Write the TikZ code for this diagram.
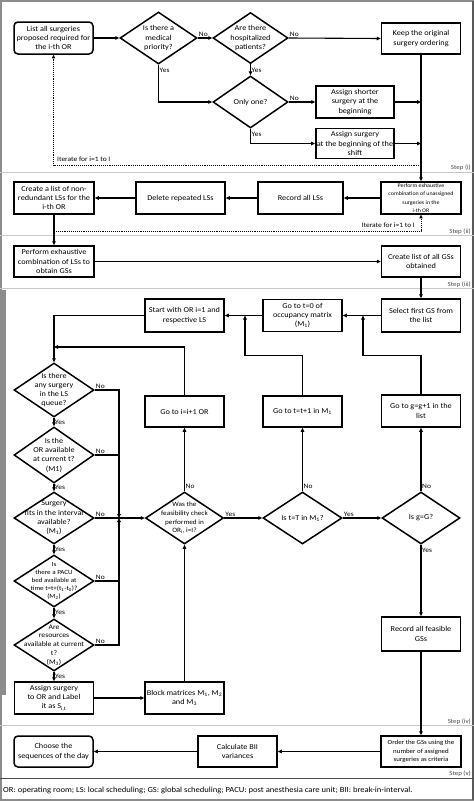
\documentclass[tikz,border=0pt]{standalone}
\usepackage{fontspec}
\setmainfont[FakeStretch=1.1]{Carlito}
\usetikzlibrary{arrows.meta,shapes.geometric}
\newcommand\fsz[2]{\fontsize{#1}{#2}\selectfont}
\begin{document}
\begin{tikzpicture}[x=1pt,y=-1pt,
 every node/.style={font=\fsz{7.5}{9.3}},
 box/.style={draw, line width=1.5pt, fill=white, align=center, inner sep=1pt, minimum width=79pt, minimum height=32pt},
 rbox/.style={box, rounded corners=4pt},
 dia/.style={draw, diamond, line width=1.5pt, fill=white, inner sep=0pt, minimum width=80pt, minimum height=52pt},
 dtxt/.style={align=center, inner sep=0pt},
 arr/.style={line width=1.1pt, -{Triangle[length=4pt,width=3.6pt]}},
 ln/.style={line width=1.1pt},
 dots/.style={line width=0.9pt, densely dotted, -{Triangle[length=3.5pt,width=3.2pt]}},
 lbl/.style={font=\fsz{6.8}{8}, inner sep=1pt},
 sepl/.style={draw=black!22, line width=0.9pt},
 steplbl/.style={font=\fsz{6.3}{7.5}, text=black!70, inner sep=0pt, anchor=east},
]
\useasboundingbox (0,0) rectangle (474,801);
% frame
\fill[white] (0,0) rectangle (474,801);
\draw[black!45, line width=2pt] (1,1) rectangle (473,800);
\fill[black!45] (0,290) rectangle (6,695);
\draw[black!65, line width=2pt] (472.5,1) -- (472.5,800);
% separators
\draw[sepl] (0,172) -- (474,172);
\draw[sepl] (0,235) -- (474,235);
\draw[sepl] (0,288) -- (474,288);
\draw[sepl] (0,725) -- (474,725);
\draw[black!70, line width=0.9pt] (0,778) -- (474,778);
\node[steplbl] (s1) at (471,167.5) {Step (i)};
\node[steplbl] (s2) at (471,231.5) {Step (ii)};
\node[steplbl] (s3) at (471,284.5) {Step (iii)};
\node[steplbl] (s4) at (471,721.5) {Step (iv)};
\node[steplbl] (s5) at (471,774) {Step (v)};
\node[anchor=west, font=\fsz{7.8}{9}, inner sep=0pt] (foot) at (3,790) {OR: operating room; LS: local scheduling; GS: global scheduling; PACU: post anesthesia care unit; BII: break-in-interval.};

% ---------- Step (i)
\node[rbox] (list) at (53.5,38) {List all surgeries\\proposed required for\\the i-th OR};
\node[dia, minimum width=77pt] (d1) at (158.5,38) {};
\node[dtxt] (d1t) at (d1) {Is there a\\medical\\priority?};
\node[dia, minimum width=75pt, minimum height=51pt] (d2) at (250.5,38) {};
\node[dtxt] (d2t) at (d2) {Are there\\hospitalized\\patients?};
\node[box, minimum height=31pt] (keep) at (421,38.5) {Keep the original\\surgery ordering};
\node[dia, minimum width=75pt] (d3) at (250.5,102) {};
\node[dtxt] (d3t) at (d3) {Only one?};
\node[box, minimum width=78pt] (short) at (355,102) {Assign shorter\\surgery at the\\beginning};
\node[box, minimum width=78pt, minimum height=30pt] (begin) at (355,143.5) {Assign surgery\\at the beginning of the\\shift};

\draw[arr] (list.east) -- (d1.west);
\draw[arr] (d1.east) -- (d2.west);
\node[lbl, anchor=south west] (l1) at (d1.east) {No};
\draw[arr] (d2.east) -- (keep.west);
\node[lbl, anchor=south west] (l2) at (d2.east) {No};
\draw[arr] (d2.south) -- (d3.north);
\node[lbl, anchor=west] (l3) at ([yshift=-6pt]d2.south) {Yes};
\draw[arr] (d1.south) |- (d3.west);
\node[lbl, anchor=west] (l4) at ([yshift=-6pt]d1.south) {Yes};
\draw[arr] (d3.east) -- (short.west);
\node[lbl, anchor=south west] (l5) at (d3.east) {No};
\draw[arr] (d3.south) |- (begin.west);
\node[lbl, anchor=west] (l6) at ([yshift=-6pt]d3.south) {Yes};

% ---------- Step (ii)
\node[box, minimum width=80pt, font=\fsz{5.4}{8.4}] (perf1) at (421,198) {Perform exhaustive\\combination of unassigned\\surgeries in the\\i-th OR};
\node[box, minimum width=85pt] (rec) at (300.5,198) {Record all LSs};
\node[box, minimum width=89pt] (del) at (180.5,198) {Delete repeated LSs};
\node[box, minimum width=80pt] (crl) at (54,198) {Create a list of non-\\redundant LSs for the\\i-th OR};

\draw[arr] (keep.south) -- (perf1.north);
\draw[arr] (short.east) -- (short.east -| keep.south);
\draw[arr] (begin.east) -- (begin.east -| keep.south);
\coordinate (it1) at (421,165);
\draw[dots] (it1) -| (list.south);
\node[lbl, anchor=west, font=\fsz{6.8}{8}] (it1l) at (56,159) {Iterate for i=1 to I};

\draw[arr] (perf1.west) -- (rec.east);
\draw[arr] (rec.west) -- (del.east);
\draw[arr] (del.west) -- (crl.east);
\coordinate (it2) at (54,231);
\draw[dots] (it2) -| (perf1.south);
\node[lbl, anchor=east, font=\fsz{6.8}{8}] (it2l) at (416,225.5) {Iterate for i=1 to I};

% ---------- Step (iii)
\node[box, minimum width=80pt, minimum height=31pt] (perf2) at (54,261.5) {Perform exhaustive\\combination of LSs to\\obtain GSs};
\node[box, minimum height=31pt] (crg) at (421,261.5) {Create list of all GSs\\obtained};
\draw[arr] (crl.south) -- (perf2.north);
\draw[arr] (perf2.east) -- (crg.west);

% ---------- Step (iv)
\node[box, minimum height=33pt] (sel) at (421,315.5) {Select first GS from\\the list};
\node[box, minimum height=32pt] (got0) at (302.5,315.5) {Go to t=0 of\\occupancy matrix\\(M\textsubscript{1})};
\node[box, minimum height=33pt] (start) at (184.5,315.5) {Start with OR i=1 and\\respective LS};

\node[dia, minimum height=54pt] (q1) at (54,390) {};
\node[dtxt] (q1t) at (q1) {Is there\\any surgery\\in the LS\\queue?};
\node[dia, minimum height=56pt] (q2) at (54,455) {};
\node[dtxt] (q2t) at (q2) {Is the\\OR available\\at current t?\\(M1)};
\node[dia] (q3) at (54,518) {};
\node[dtxt] (q3t) at (q3) {Surgery\\fits in the interval\\available?\\(M\textsubscript{1})};
\node[dia] (q4) at (54,581) {};
\node[dtxt, font=\fsz{6.4}{7.9}] (q4t) at (q4) {Is\\there a PACU\\bed available at\\time t=t+(t\textsubscript{1}-t\textsubscript{0})?\\(M\textsubscript{2})};
\node[dia] (q5) at (54,645) {};
\node[dtxt, font=\fsz{7}{8.8}] (q5t) at (q5) {Are\\resources\\available at current\\t?\\(M\textsubscript{3})};
\node[box] (assign) at (54,698) {Assign surgery\\to OR and Label\\it as S\textsubscript{i,t}};
\node[box] (block) at (184.5,698) {Block matrices M\textsubscript{1}, M\textsubscript{2}\\and M\textsubscript{3}};
\node[box, minimum height=31pt] (goi) at (184.5,411.5) {Go to i=i+1 OR};
\node[dia, minimum width=78pt] (was) at (184.5,518) {};
\node[dtxt, font=\fsz{6.6}{8.6}] (wast) at (was) {Was the\\feasibility check\\performed in\\OR\textsubscript{i}, i=I?};
\node[dia, minimum width=79pt] (ist) at (302.5,518) {};
\node[dtxt] (istt) at (ist) {Is t=T in M\textsubscript{1}?};
\node[box, minimum height=31pt] (got1) at (302.5,411.5) {Go to t=t+1 in M\textsubscript{1}};
\node[dia, minimum width=78pt] (isg) at (421,518) {};
\node[dtxt] (isgt) at (isg) {Is g=G?};
\node[box] (gog) at (421,411) {Go to g=g+1 in the\\list};
\node[box, minimum height=34pt] (recf) at (421,634) {Record all feasible\\GSs};

\draw[arr] (crg.south) -- (sel.north);
\draw[arr] (sel.west) -- (got0.east);
\draw[arr] (got0.west) -- (start.east);
\draw[arr] (start.west) -| (q1.north);
\coordinate (jl) at (54,347);
\draw[arr] (goi.north) |- (jl);
\coordinate (jn) at (119,518);
\draw[arr] (q1.east) -| (jn);
\node[lbl, anchor=south west] (lq1) at (q1.east) {No};
\draw[ln] (q2.east) -- (q2.east -| jn);
\node[lbl, anchor=south west] (lq2) at (q2.east) {No};
\draw[arr] (q3.east) -- (was.west);
\node[lbl, anchor=south west] (lq3) at (q3.east) {No};
\draw[ln] (q4.east) -- (q4.east -| jn);
\node[lbl, anchor=south west] (lq4) at (q4.east) {No};
\draw[arr] (q5.east) -| (jn);
\node[lbl, anchor=south west] (lq5) at (q5.east) {No};
\draw[arr] (q1.south) -- (q2.north);
\node[lbl, anchor=west] (ly1) at ([yshift=-5pt]q1.south) {Yes};
\draw[arr] (q2.south) -- (q3.north);
\node[lbl, anchor=west] (ly2) at ([yshift=-4pt]q2.south) {Yes};
\draw[arr] (q3.south) -- (q4.north);
\node[lbl, anchor=west] (ly3) at ([yshift=-5pt]q3.south) {Yes};
\draw[arr] (q4.south) -- (q5.north);
\node[lbl, anchor=west] (ly4) at ([yshift=-5pt]q4.south) {Yes};
\draw[arr] (q5.south) -- (assign.north);
\node[lbl, anchor=west] (ly5) at ([yshift=-5pt]q5.south) {Yes};
\draw[arr] (assign.east) -- (block.west);
\draw[arr] (block.north) -- (was.south);
\draw[arr] (was.north) -- (goi.south);
\node[lbl, anchor=west] (lw1) at ([yshift=5pt]was.north) {No};
\draw[arr] (was.east) -- (ist.west);
\node[lbl, anchor=south west] (lw2) at (was.east) {Yes};
\draw[arr] (ist.north) -- (got1.south);
\node[lbl, anchor=west] (lt1) at ([yshift=5pt]ist.north) {No};
\coordinate (jt) at (245,315.5);
\draw[arr] (got1.north) -- ++(0,-40) -| (jt);
\draw[arr] (ist.east) -- (isg.west);
\node[lbl, anchor=south west] (lt2) at (ist.east) {Yes};
\draw[arr] (isg.north) -- (gog.south);
\node[lbl, anchor=west] (lg1) at ([yshift=5pt]isg.north) {No};
\coordinate (jg) at (363,315.5);
\draw[arr] (gog.north) -- ++(0,-39) -| (jg);
\draw[arr] (isg.south) -- (recf.north);
\node[lbl, anchor=west] (lg2) at ([yshift=-6pt]isg.south) {Yes};

% ---------- Step (v)
\node[box, minimum width=80pt, minimum height=31pt, font=\fsz{6.3}{8.5}] (order) at (421,751.5) {Order the GSs using the\\number of assigned\\surgeries as criteria};
\node[box, minimum height=31pt] (calc) at (237.5,751.5) {Calculate BII\\variances};
\node[rbox, minimum height=31pt] (choose) at (53.5,751.5) {Choose the\\sequences of the day};
\draw[arr] (recf.south) -- (order.north);
\draw[arr] (order.west) -- (calc.east);
\draw[arr] (calc.west) -- (choose.east);
\end{tikzpicture}
\end{document}
